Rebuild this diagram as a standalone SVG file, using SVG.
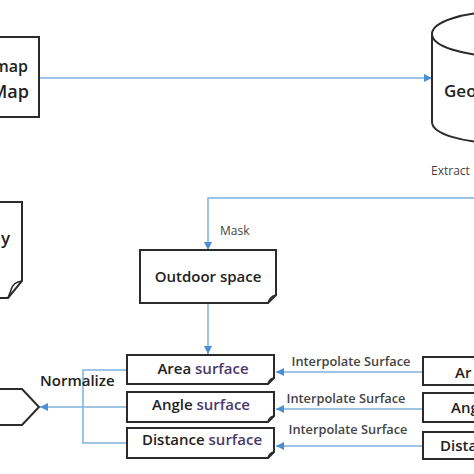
<svg xmlns="http://www.w3.org/2000/svg" width="474" height="474" viewBox="0 0 474 474">
<defs>
<style>
.box{fill:#fff;stroke:#2b2b2b;stroke-width:2}
.fold{fill:none;stroke:#2b2b2b;stroke-width:1.6}
.t{font-family:"Open Sans","Noto Sans",sans-serif;font-weight:600;fill:#222}
.lbl{font-family:"Open Sans","Noto Sans",sans-serif;font-weight:600;fill:#444;font-size:12.8px}
.sm{font-family:"Open Sans","Noto Sans",sans-serif;font-weight:400;fill:#444;font-size:12px}
.pur{fill:#4a3a6c}
.ln{fill:none;stroke:#7eb2de;stroke-width:1.5}
</style>
<marker id="ah" viewBox="0 0 10 10" refX="10" refY="5" markerWidth="8" markerHeight="8" orient="auto" markerUnits="userSpaceOnUse">
<path d="M0,0 L10,5 L0,10 Z" fill="#4a8fd4"/>
</marker>
</defs>
<rect width="474" height="474" fill="#fff"/>

<g id="connectors">
<line class="ln" x1="39" y1="78" x2="432" y2="78" marker-end="url(#ah)"/>
<polyline class="ln" points="474,198 208,198 208,250" marker-end="url(#ah)" stroke="#9cb9e2"/>
<line class="ln" x1="208" y1="303" x2="208" y2="354" marker-end="url(#ah)"/>
<line class="ln" x1="423" y1="372" x2="276" y2="372" marker-end="url(#ah)"/>
<line class="ln" x1="423" y1="409" x2="276" y2="409" marker-end="url(#ah)"/>
<line class="ln" x1="423" y1="446" x2="276" y2="446" marker-end="url(#ah)"/>
<polyline class="ln" points="127,370 83,370 83,443 127,443"/>
<line class="ln" x1="127" y1="407" x2="40" y2="407" marker-end="url(#ah)"/>
<text class="sm" x="431" y="175">Extract</text>
<text class="sm" x="220" y="235">Mask</text>
<text class="t" x="40" y="386" font-size="15">Normalize</text>
<text class="lbl" x="351" y="366" text-anchor="middle">Interpolate Surface</text>
<text class="lbl" x="346" y="403" text-anchor="middle">Interpolate Surface</text>
<text class="lbl" x="348" y="434" text-anchor="middle">Interpolate Surface</text>
</g>

<g id="map">
<rect class="box" x="-5" y="37" width="44" height="80"/>
<text class="t" x="28" y="72" font-size="16" text-anchor="end">map</text>
<text class="t" x="29" y="98" font-size="18" text-anchor="end">Map</text>
</g>

<g id="geodatabase">
<path class="box" d="M432,34 V122 A68,21 0 0,0 568,122 V34"/>
<ellipse class="box" cx="500" cy="34" rx="68" ry="22"/>
<text class="t" x="444" y="97" font-size="17">Geo</text>
</g>

<g id="doc">
<path class="box" d="M-5,202 H22 V281 L8,298 H-5 Z"/>
<path class="fold" d="M22,281 Q13,282 11,290 L8,298"/>
<text class="t" x="10" y="244" font-size="17" text-anchor="end">y</text>
</g>

<g id="outdoor">
<path class="box" d="M140,250 H276 V295 L268,303 H140 Z"/>
<path class="fold" d="M276,295 Q270,296 268,303"/>
<text class="t" x="208" y="282" font-size="15" text-anchor="middle">Outdoor space</text>
</g>

<g id="area-surface">
<path class="box" d="M127,355 H274 V378 L268,384 H127 Z"/>
<path class="fold" d="M274,378 Q269,379 268,384"/>
<text class="t" x="203" y="374" font-size="15" text-anchor="middle">Area <tspan class="pur">surface</tspan></text>
</g>

<g id="angle-surface">
<path class="box" d="M127,392 H274 V416 L268,422 H127 Z"/>
<path class="fold" d="M274,416 Q269,417 268,422"/>
<text class="t" x="201" y="410" font-size="15" text-anchor="middle">Angle <tspan class="pur">surface</tspan></text>
</g>

<g id="distance-surface">
<path class="box" d="M127,428 H274 V452 L268,458 H127 Z"/>
<path class="fold" d="M274,452 Q269,453 268,458"/>
<text class="t" x="202" y="445" font-size="15" text-anchor="middle">Distance <tspan class="pur">surface</tspan></text>
</g>

<g id="area">
<rect class="box" x="423" y="357" width="60" height="28"/>
<text class="t" x="455" y="378" font-size="15">Ar</text>
</g>
<g id="angle">
<rect class="box" x="423" y="393" width="60" height="29"/>
<text class="t" x="451" y="413" font-size="15">Ang</text>
</g>
<g id="distance">
<rect class="box" x="423" y="432" width="60" height="27"/>
<text class="t" x="440" y="451" font-size="15">Dista</text>
</g>

<g id="normalize-node">
<path class="box" d="M-5,389 H22 L39,407 L22,425 H-5"/>
</g>
</svg>
